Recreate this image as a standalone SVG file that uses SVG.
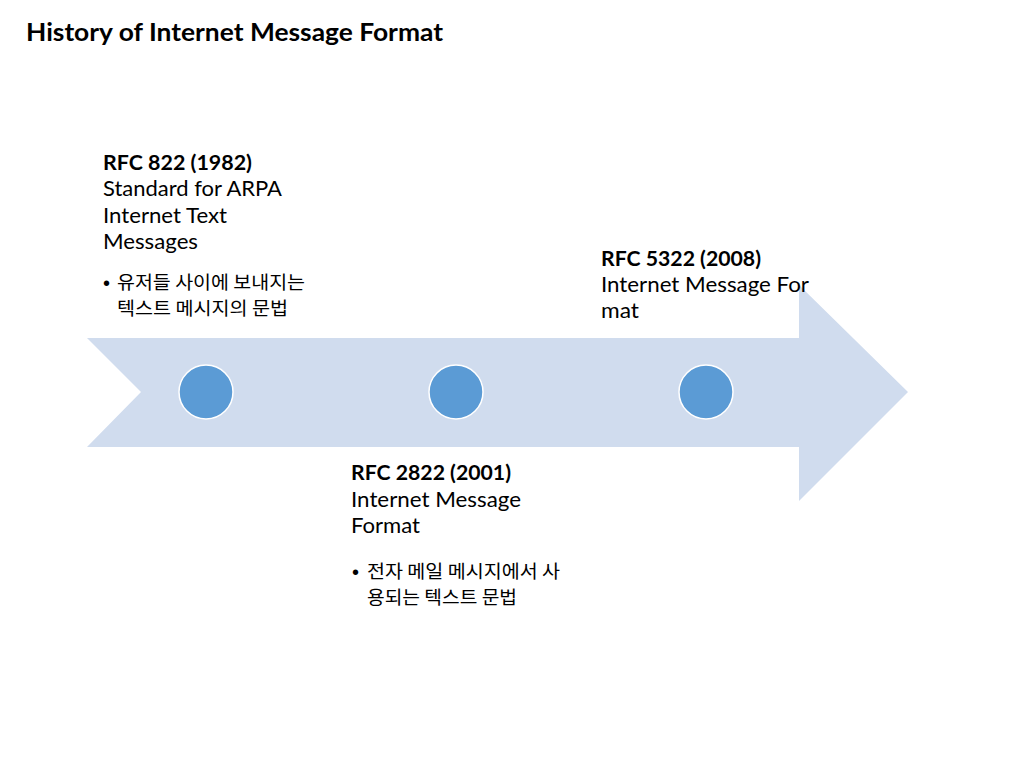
<svg xmlns="http://www.w3.org/2000/svg" width="1024" height="768" viewBox="0 0 1024 768">
  <style>
    .t { font-family: Lato, "Open Sans", "Noto Sans CJK KR", sans-serif; fill: #000; }
    .title { font-size: 25px; font-weight: bold; }
    .h { font-size: 21px; font-weight: bold; }
    .b { font-size: 21px; }
    .k { font-family: "Noto Sans CJK KR", "Noto Sans", sans-serif; font-size: 18px; fill: #000; }
    .bul { font-family: "Liberation Sans", sans-serif; font-size: 20px; fill: #000; }
    .dot { fill: #5B9BD5; stroke: #FFFFFF; stroke-width: 1.5; }
  </style>
  <rect width="1024" height="768" fill="#FFFFFF"/>
  <text class="t title" x="26" y="41" textLength="417" lengthAdjust="spacingAndGlyphs">History of Internet Message Format</text>

  <g id="timeline">
    <polygon points="87,338 799,338 799,285 908,392 799,501 799,447 87,447 141,392" fill="#D0DCEE"/>
  </g>

  <g id="connectors"></g>

  <g id="node-rfc822">
    <circle class="dot" cx="206" cy="392" r="27"/>
    <text class="t h" x="103" y="170" textLength="149" lengthAdjust="spacingAndGlyphs">RFC 822 (1982)</text>
    <text class="t b" x="103" y="196" textLength="179" lengthAdjust="spacingAndGlyphs">Standard for ARPA</text>
    <text class="t b" x="103" y="223" textLength="124" lengthAdjust="spacingAndGlyphs">Internet Text</text>
    <text class="t b" x="103" y="249" textLength="95" lengthAdjust="spacingAndGlyphs">Messages</text>
    <text class="bul" x="103" y="290">•</text>
    <text class="k" x="117" y="289" textLength="188" lengthAdjust="spacingAndGlyphs">유저들 사이에 보내지는</text>
    <text class="k" x="117" y="315" textLength="171" lengthAdjust="spacingAndGlyphs">텍스트 메시지의 문법</text>
  </g>

  <g id="node-rfc2822">
    <circle class="dot" cx="456" cy="392" r="27"/>
    <text class="t h" x="351" y="480" textLength="160" lengthAdjust="spacingAndGlyphs">RFC 2822 (2001)</text>
    <text class="t b" x="351" y="507" textLength="170" lengthAdjust="spacingAndGlyphs">Internet Message</text>
    <text class="t b" x="351" y="533" textLength="69" lengthAdjust="spacingAndGlyphs">Format</text>
    <text class="bul" x="352" y="579">•</text>
    <text class="k" x="367" y="578" textLength="193" lengthAdjust="spacingAndGlyphs">전자 메일 메시지에서 사</text>
    <text class="k" x="367" y="604" textLength="150" lengthAdjust="spacingAndGlyphs">용되는 텍스트 문법</text>
  </g>

  <g id="node-rfc5322">
    <circle class="dot" cx="706" cy="392" r="27"/>
    <text class="t h" x="601" y="266" textLength="160" lengthAdjust="spacingAndGlyphs">RFC 5322 (2008)</text>
    <text class="t b" x="601" y="292" textLength="208" lengthAdjust="spacingAndGlyphs">Internet Message For</text>
    <text class="t b" x="601" y="318" textLength="38" lengthAdjust="spacingAndGlyphs">mat</text>
  </g>
</svg>
